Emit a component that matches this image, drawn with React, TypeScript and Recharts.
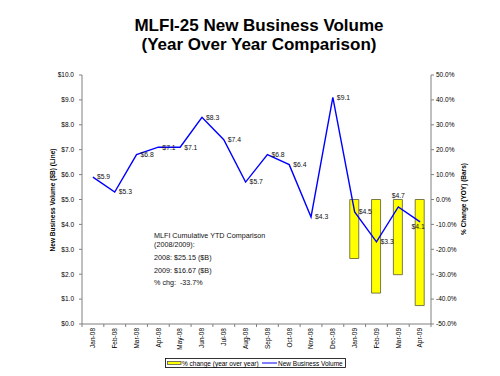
import { Bar, ComposedChart, LabelList, Line, XAxis, YAxis } from 'recharts';

const months = [
  'Jan-08', 'Feb-08', 'Mar-08', 'Apr-08', 'May-08', 'Jun-08', 'Jul-08', 'Aug-08',
  'Sep-08', 'Oct-08', 'Nov-08', 'Dec-08', 'Jan-09', 'Feb-09', 'Mar-09', 'Apr-09',
];
// New business volume, $B (line, left axis)
const volume = [5.9, 5.3, 6.8, 7.1, 7.1, 8.3, 7.4, 5.7, 6.8, 6.4, 4.3, 9.1, 4.5, 3.3, 4.7, 4.1];
// % change year over year (bars, right axis), only for 2009
const yoyChange: (number | null)[] = [
  null, null, null, null, null, null, null, null, null, null, null, null, -23.7, -37.6, -30.2, -42.6,
];
const volumeTicks = [0, 1, 2, 3, 4, 5, 6, 7, 8, 9, 10];
const changeTicks = [-50, -40, -30, -20, -10, 0, 10, 20, 30, 40, 50];
const titleLines = ['MLFI-25 New Business Volume', '(Year Over Year Comparison)'];
const ytdNotes = [
  'MLFI Cumulative YTD Comparison',
  '(2008/2009):',
  '2008: $25.15 ($B)',
  '2009: $16.67 ($B)',
  '% chg:  -33.7%',
];

const data = months.map((month, i) => ({ month, volume: volume[i], change: yoyChange[i] }));

const W = 500;
const H = 376;
const PLOT_LEFT = 82;
const PLOT_RIGHT = 431;
const PLOT_TOP = 75;
const PLOT_BOTTOM = 324;
const BAND = (PLOT_RIGHT - PLOT_LEFT) / months.length;
const FONT = '"Liberation Sans", Arial, sans-serif';
const AXIS_GRAY = '#808080';

function MonthTick(props: any) {
  const { x, payload, index } = props;
  const half = BAND / 2;
  return (
    <g>
      <line x1={x - half} x2={x - half} y1={PLOT_BOTTOM} y2={PLOT_BOTTOM + 3} stroke={AXIS_GRAY} />
      {index === months.length - 1 && (
        <line x1={x + half} x2={x + half} y1={PLOT_BOTTOM} y2={PLOT_BOTTOM + 3} stroke={AXIS_GRAY} />
      )}
      <text
        transform={`translate(${x + 2.3}, ${PLOT_BOTTOM + 4}) rotate(-90)`}
        textAnchor="end"
        fontSize={6.5}
        fontFamily={FONT}
        fill="#000"
      >
        {payload.value}
      </text>
    </g>
  );
}

function VolumeLabel(props: any) {
  const { x, y, value, index } = props;
  let tx = x + 4;
  let ty = y;
  let anchor = 'start';
  // Excel labels sit right of the point; the last two were nudged by hand
  if (index === 14) {
    tx = x;
    ty = y - 11;
    anchor = 'middle';
  } else if (index === 15) {
    tx = x - 2;
    ty = y + 5;
    anchor = 'middle';
  }
  return (
    <text x={tx} y={ty} dy="0.35em" textAnchor={anchor} fontSize={6.8} fontFamily={FONT} fill="#111">
      ${Number(value).toFixed(1)}
    </text>
  );
}

function Overlay() {
  return (
    <svg width={W} height={H} style={{ position: 'absolute', left: 0, top: 0, pointerEvents: 'none' }}>
      {titleLines.map((line, i) => (
        <text
          key={line}
          x={259}
          y={30.5 + i * 19.5}
          textAnchor="middle"
          fontSize={17}
          fontWeight="bold"
          fontFamily={FONT}
          fill="#000"
        >
          {line}
        </text>
      ))}
      <text
        transform="translate(54.5, 200) rotate(-90)"
        textAnchor="middle"
        fontSize={6.5}
        fontWeight="bold"
        fontFamily={FONT}
      >
        New Business Volume ($B) (Line)
      </text>
      <text
        transform="translate(466, 199) rotate(-90)"
        textAnchor="middle"
        fontSize={6.5}
        fontWeight="bold"
        fontFamily={FONT}
      >
        % Change (YOY) (Bars)
      </text>
      {ytdNotes.map((line, i) => (
        <text
          key={line}
          x={154}
          y={[238.3, 246.6, 260.3, 272.6, 284.6][i]}
          fontSize={7.2}
          fontFamily={FONT}
          fill="#111"
          style={{ whiteSpace: 'pre' }}
        >
          {line}
        </text>
      ))}
      {/* legend */}
      <rect x={165.5} y={358.5} width={180} height={9} fill="#fff" stroke="#000" strokeWidth={0.8} />
      <rect x={167.5} y={361.5} width={13.5} height={3} fill="#FFFF00" stroke="#555" strokeWidth={0.8} />
      <text x={182} y={365.5} fontSize={6.5} fontFamily={FONT}>
        % change (year over year)
      </text>
      <line x1={262} x2={277} y1={363} y2={363} stroke="#0000FF" strokeWidth={1} />
      <text x={278} y={365.5} fontSize={6.5} fontFamily={FONT}>
        New Business Volume
      </text>
    </svg>
  );
}

export default function App() {
  return (
    <div style={{ position: 'absolute', left: 0, top: 0, width: W, height: H, background: '#fff' }}>
      <ComposedChart width={W} height={H} data={data} margin={{ top: PLOT_TOP, right: 0, bottom: 0, left: 0 }}>
        <XAxis
          dataKey="month"
          type="category"
          interval={0}
          height={H - PLOT_BOTTOM}
          tickLine={false}
          axisLine={{ stroke: AXIS_GRAY }}
          tick={<MonthTick />}
        />
        <YAxis
          yAxisId="left"
          orientation="left"
          width={PLOT_LEFT}
          domain={[0, 10]}
          ticks={volumeTicks}
          tickFormatter={(v: number) => `$${v.toFixed(1)}`}
          tick={{ fontSize: 6.5, fill: '#000', fontFamily: FONT }}
          tickSize={3}
          tickMargin={5}
          axisLine={{ stroke: AXIS_GRAY }}
          tickLine={{ stroke: AXIS_GRAY }}
        />
        <YAxis
          yAxisId="right"
          orientation="right"
          width={W - PLOT_RIGHT}
          domain={[-50, 50]}
          ticks={changeTicks}
          tickFormatter={(v: number) => `${v.toFixed(1)}%`}
          tick={{ fontSize: 6.5, fill: '#000', fontFamily: FONT }}
          tickSize={3}
          tickMargin={2}
          axisLine={{ stroke: AXIS_GRAY }}
          tickLine={{ stroke: AXIS_GRAY }}
        />
        <Bar
          yAxisId="right"
          dataKey="change"
          barSize={9}
          fill="#FFFF00"
          stroke="#5a5a30"
          strokeWidth={0.8}
          isAnimationActive={false}
        />
        <Line
          yAxisId="left"
          type="linear"
          dataKey="volume"
          stroke="#0000FF"
          strokeWidth={1.4}
          dot={false}
          activeDot={false}
          isAnimationActive={false}
        >
          <LabelList dataKey="volume" content={<VolumeLabel />} />
        </Line>
      </ComposedChart>
      <Overlay />
    </div>
  );
}
